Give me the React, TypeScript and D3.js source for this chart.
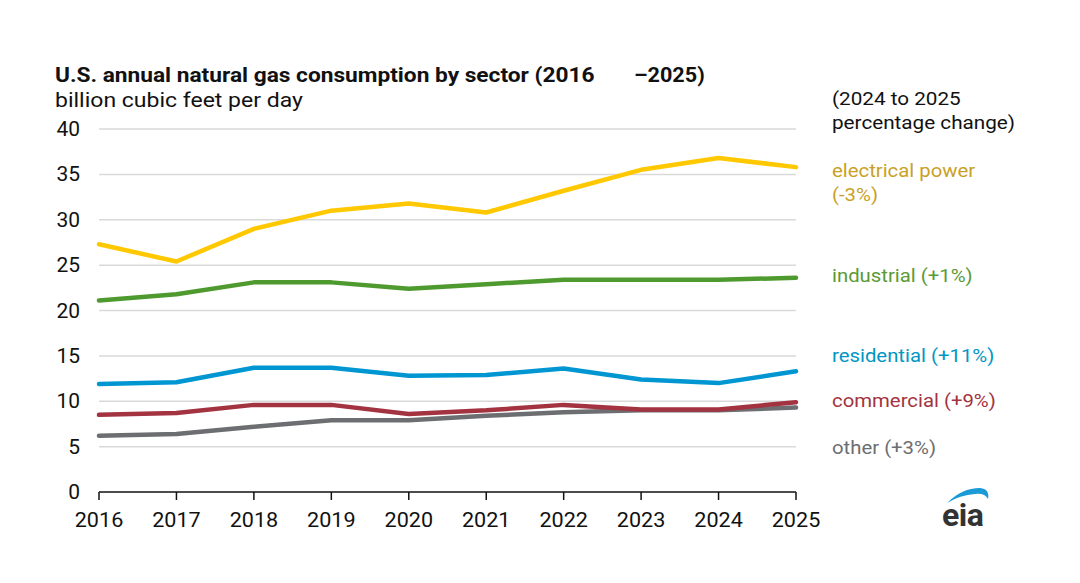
import React from 'react';
import * as d3 from 'd3';

const years = [2016, 2017, 2018, 2019, 2020, 2021, 2022, 2023, 2024, 2025];
const electricalPower = [27.3, 25.4, 29.0, 31.0, 31.8, 30.8, 33.2, 35.5, 36.8, 35.8];
const industrial = [21.1, 21.8, 23.1, 23.1, 22.4, 22.9, 23.4, 23.4, 23.4, 23.6];
const residential = [11.9, 12.1, 13.7, 13.7, 12.8, 12.9, 13.6, 12.4, 12.0, 13.3];
const commercial = [8.5, 8.7, 9.6, 9.6, 8.6, 9.0, 9.6, 9.1, 9.1, 9.9];
const other = [6.2, 6.4, 7.2, 7.9, 7.9, 8.4, 8.8, 9.0, 9.0, 9.3];
const yTicks = [0, 5, 10, 15, 20, 25, 30, 35, 40];

const series = [
  { key: 'other', values: other, line: '#6d6e71', text: '#6d6e71', label: ['other (+3%)'], labelY: 448 },
  { key: 'commercial', values: commercial, line: '#a33340', text: '#a33340', label: ['commercial (+9%)'], labelY: 401 },
  { key: 'residential', values: residential, line: '#0096d2', text: '#0096c4', label: ['residential (+11%)'], labelY: 356 },
  { key: 'industrial', values: industrial, line: '#4e9a2f', text: '#5b9a35', label: ['industrial (+1%)'], labelY: 276 },
  { key: 'electrical', values: electricalPower, line: '#ffc800', text: '#c9a128', label: ['electrical power', '(-3%)'], labelY: 171 },
];

const W = 1080;
const H = 583;
const font = 'Roboto, "Noto Sans", sans-serif';

// text stretched horizontally around its anchor, the source uses a wider face
const Txt: React.FC<{ x: number; y: number; sx?: number; size: number; fill?: string; bold?: boolean; anchor?: string; dy?: string; children: React.ReactNode }> =
  ({ x, y, sx = 1, size, fill = '#111', bold, anchor = 'start', dy, children }) => (
    <g transform={`translate(${x},${y}) scale(${sx},1)`}>
      <text x={0} y={0} dy={dy} fontSize={size} fontWeight={bold ? 'bold' : 'normal'} fill={fill} textAnchor={anchor}>
        {children}
      </text>
    </g>
  );

export default function App() {
  const x = d3.scaleLinear().domain([2016, 2025]).range([99, 796]);
  const y = d3.scaleLinear().domain([0, 40]).range([492, 129]);
  const line = d3.line<number>()
    .x((_, i) => x(years[i]))
    .y(d => y(d))
    .curve(d3.curveLinear);

  return (
    <svg width={W} height={H} style={{ position: 'absolute', left: 0, top: 0, background: '#fff' }}
      fontFamily={font}>
      <rect width={W} height={H} fill="#fff" />
      {/* title */}
      <Txt x={55} y={82} size={20} sx={1.135} bold>U.S. annual natural gas consumption by sector (2016</Txt>
      <Txt x={634} y={82} size={20} sx={1.08} bold>–2025)</Txt>
      <Txt x={55} y={107} size={20} sx={1.15}>billion cubic feet per day</Txt>

      {/* grid */}
      {yTicks.filter(t => t > 0).map(t => (
        <line key={t} x1={99} x2={796} y1={y(t)} y2={y(t)} stroke="#d9d9d9" strokeWidth={1.5} />
      ))}
      {yTicks.map(t => (
        <Txt key={'l' + t} x={80} y={y(t)} dy="0.35em" anchor="end" size={20} sx={1.05}>{t}</Txt>
      ))}

      {/* x axis */}
      <line x1={99} x2={796} y1={y(0)} y2={y(0)} stroke="#111" strokeWidth={1.5} />
      {years.map(yr => (
        <g key={yr}>
          <line x1={x(yr)} x2={x(yr)} y1={y(0)} y2={y(0) + 8} stroke="#111" strokeWidth={1.5} />
          <Txt x={x(yr)} y={527} anchor="middle" size={20} sx={1.08}>{yr}</Txt>
        </g>
      ))}

      {/* lines */}
      {series.map(s => (
        <path key={s.key} d={line(s.values) || ''} fill="none" stroke={s.line} strokeWidth={4.5}
          strokeLinejoin="round" strokeLinecap="round" />
      ))}

      {/* right labels */}
      <Txt x={832} y={105} size={18} sx={1.15}>(2024 to 2025</Txt>
      <Txt x={832} y={129} size={18} sx={1.15}>percentage change)</Txt>
      {series.map(s => s.label.map((l, i) => (
        <Txt key={s.key + i} x={832} y={s.labelY + i * 24} dy="0.35em" size={18} sx={1.13} fill={s.text}>{l}</Txt>
      )))}

      {/* eia logo */}
      <path d="M947,503 Q962,488 980,488 Q990,489 988,499 Q985,493 975,494 Q960,495 947,503 Z" fill="#1a9bd7" />
      <text x={942} y={526} fontSize={32} fontWeight="bold" fill="#333" letterSpacing={-0.5}>eia</text>
    </svg>
  );
}
